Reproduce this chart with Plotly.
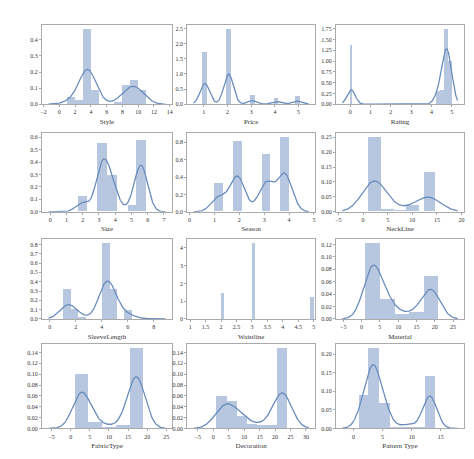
import numpy as np
import plotly.graph_objects as go
from plotly.subplots import make_subplots

# per-panel histogram data: bin edges and bar heights (density)
names = ["Style", "Price", "Rating", "Size", "Season", "NeckLine",
         "SleeveLength", "Waistline", "Material", "FabricType", "Decoration", "Pattern Type"]
edges = [
    [1, 2, 3, 4, 5, 6, 7, 8, 9, 10, 11],
    [0.95, 1.15, 1.95, 2.15, 2.95, 3.15, 3.95, 4.15, 4.85, 5.05],
    [0.0, 0.1, 4.2, 4.4, 4.6, 4.8, 5.0],
    [1.7, 2.25, 2.9, 3.5, 4.1, 4.8, 5.3, 5.9],
    [1.0, 1.35, 1.75, 2.1, 2.9, 3.25, 3.65, 4.0],
    [1.0, 3.6, 6.2, 8.8, 11.4, 12.3, 14.5],
    [1.0, 1.6, 2.2, 2.8, 4.0, 4.6, 5.2, 5.7, 6.3, 7.6, 8.2],
    [1.0, 1.1, 2.0, 2.1, 3.0, 3.1, 4.9, 5.0],
    [1, 5, 9, 13, 17, 21],
    [1, 4.6, 8.2, 11.8, 15.4, 19],
    [1, 4.3, 7.6, 10.9, 14.2, 17.5, 20.8, 24],
    [1, 2.5, 4.4, 6.3, 12.2, 14],
]
heights = [
    [0.045, 0.03, 0.47, 0.09, 0, 0, 0.015, 0.12, 0.15, 0.09],
    [1.72, 0, 2.5, 0, 0.3, 0, 0.22, 0, 0.26],
    [1.37, 0, 0.32, 0.33, 1.75, 1.0],
    [0.12, 0, 0.55, 0.29, 0, 0.05, 0.57],
    [0.33, 0, 0.81, 0, 0.66, 0, 0.86],
    [0.25, 0.008, 0.004, 0.02, 0, 0.133],
    [0.32, 0.11, 0.02, 0, 0.82, 0.33, 0, 0.1, 0, 0.01],
    [0.02, 0, 1.5, 0, 4.3, 0, 1.25],
    [0.123, 0.033, 0.008, 0.011, 0.07],
    [0.102, 0.013, 0.004, 0.007, 0.149],
    [0.061, 0.052, 0.023, 0.008, 0.007, 0.007, 0.149],
    [0.092, 0.218, 0.07, 0.005, 0.142],
]
bandwidths = [1.0, 0.2, 0.2, 0.4, 0.3, 2.5, 0.6, None, 2.5, 2.3, 3.0, 1.2]
xranges = [[-2.2, 14.3], [0.3, 5.7], [-0.7, 5.6], [-0.5, 7.5], [-0.1, 5.05], [-5.5, 20.5],
           [-0.6, 9.4], [0.9, 5.05], [-7, 28], [-7.5, 26.5], [-8.5, 33], [-3, 19]]
xticks = [[-2, 0, 2, 4, 6, 8, 10, 12, 14], [1, 2, 3, 4, 5], [0, 1, 2, 3, 4, 5],
          [0, 1, 2, 3, 4, 5, 6, 7], [0, 1, 2, 3, 4, 5], [-5, 0, 5, 10, 15, 20],
          [0, 2, 4, 6, 8], [1.0, 1.5, 2.0, 2.5, 3.0, 3.5, 4.0, 4.5, 5.0],
          [-5, 0, 5, 10, 15, 20, 25], [-5, 0, 5, 10, 15, 20, 25],
          [-5, 0, 5, 10, 15, 20, 25, 30], [0, 5, 10, 15]]
yticks = [[0, 0.1, 0.2, 0.3, 0.4], [0, 0.5, 1.0, 1.5, 2.0, 2.5],
          [0, 0.25, 0.5, 0.75, 1.0, 1.25, 1.5, 1.75],
          [0, 0.1, 0.2, 0.3, 0.4, 0.5, 0.6], [0, 0.2, 0.4, 0.6, 0.8],
          [0, 0.05, 0.1, 0.15, 0.2, 0.25], [0, 0.1, 0.2, 0.3, 0.4, 0.5, 0.6, 0.7, 0.8],
          [0, 1, 2, 3, 4], [0, 0.02, 0.04, 0.06, 0.08, 0.1, 0.12],
          [0, 0.02, 0.04, 0.06, 0.08, 0.1, 0.12, 0.14],
          [0, 0.02, 0.04, 0.06, 0.08, 0.1, 0.12, 0.14], [0, 0.05, 0.1, 0.15, 0.2]]
yfmt = [".1f", ".1f", ".2f", ".1f", ".1f", ".2f", ".1f", "d", ".2f", ".2f", ".2f", ".2f"]

xdom = [[0.068, 0.344], [0.376, 0.648], [0.692, 0.964]]
ydom = [[0.789, 0.963], [0.553, 0.725], [0.318, 0.494], [0.078, 0.264]]

BAR = "rgba(76,114,176,0.4)"
LINE = "#6a8dbd"

fig = make_subplots(rows=4, cols=3)
for i in range(12):
    r, c = i // 3 + 1, i % 3 + 1
    e = np.array(edges[i], float)
    h = np.array(heights[i], float)
    w = np.diff(e)
    fig.add_trace(go.Bar(x=(e[:-1] + e[1:]) / 2, y=h, width=w, marker_color=BAR,
                         marker_line_width=0, showlegend=False), row=r, col=c)
    if bandwidths[i]:
        # kde estimated from the histogram itself
        centers = (e[:-1] + e[1:]) / 2
        wt = h * w
        wt = wt / wt.sum()
        bw = bandwidths[i]
        xs = np.linspace(xranges[i][0] + 0.05 * (xranges[i][1] - xranges[i][0]),
                         xranges[i][1] - 0.05 * (xranges[i][1] - xranges[i][0]), 300)
        ys = (wt[None, :] * np.exp(-0.5 * ((xs[:, None] - centers[None, :]) / bw) ** 2)).sum(1) / (bw * np.sqrt(2 * np.pi))
        fig.add_trace(go.Scatter(x=xs, y=ys, mode="lines", line=dict(color=LINE, width=1.3),
                                 showlegend=False), row=r, col=c)
    ax = "" if i == 0 else str(i + 1)
    ymax = max(max(h), yticks[i][-1]) * 1.05
    fig.layout["xaxis" + ax].update(domain=xdom[c - 1], range=xranges[i], tickvals=xticks[i],
                                    title=dict(text=names[i], standoff=4, font=dict(size=7)))
    fig.layout["yaxis" + ax].update(domain=ydom[r - 1], range=[0, ymax], tickvals=yticks[i],
                                    tickformat=yfmt[i])

fig.update_xaxes(showgrid=False, zeroline=False, showline=True, mirror=True, linecolor="#aaaaaa",
                 linewidth=1, ticks="outside", ticklen=2, tickcolor="#aaaaaa", tickfont=dict(size=6))
fig.update_yaxes(showgrid=False, zeroline=False, showline=True, mirror=True, linecolor="#aaaaaa",
                 linewidth=1, ticks="outside", ticklen=2, tickcolor="#aaaaaa", tickfont=dict(size=6))
fig.update_layout(width=474, height=459, margin=dict(l=0, r=0, t=0, b=0), bargap=0,
                  plot_bgcolor="white", paper_bgcolor="white",
                  font=dict(family="Liberation Serif", color="#333333"))
fig.write_html("out.html")
